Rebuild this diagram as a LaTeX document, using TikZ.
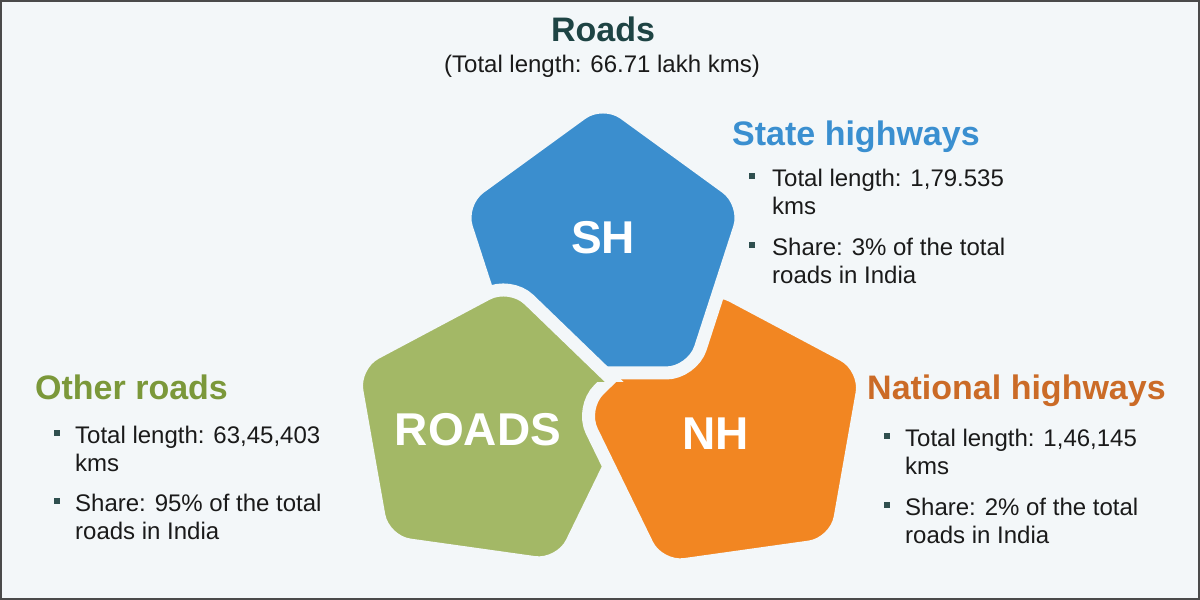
\documentclass[tikz,border=0pt]{standalone}
\usepackage{fontspec}
\setmainfont{Liberation Sans}
\definecolor{bgc}{HTML}{F3F7F9}
\definecolor{frameC}{HTML}{4A4A4A}
\definecolor{blueC}{HTML}{3B8ECE}
\definecolor{greenC}{HTML}{A3B866}
\definecolor{orangeC}{HTML}{F28622}
\definecolor{titleC}{HTML}{1E4444}
\definecolor{hBlue}{HTML}{3A8FD0}
\definecolor{hGreen}{HTML}{7B983A}
\definecolor{hOrange}{HTML}{CB6B27}
\definecolor{txt}{HTML}{1A1A1A}
\definecolor{bulc}{HTML}{2F4F4F}
\begin{document}
\begin{tikzpicture}[x=1pt,y=-1pt,
  pent/.style={line width=13pt, draw=bgc, rounded corners=26pt, line join=round},
  head/.style={anchor=base west, font=\fontsize{34}{40}\selectfont\bfseries, inner sep=0pt},
  body/.style={anchor=base west, font=\fontsize{24}{28}\selectfont, align=left, inner sep=0pt, text=txt},
  bul/.style={fill=bulc, minimum size=6pt, inner sep=0pt},
  lbl/.style={anchor=base, text=white, font=\fontsize{46}{50}\selectfont\bfseries, inner sep=0pt}]
\useasboundingbox (0,0) rectangle (1200,600);
\fill[bgc] (0,0) rectangle (1200,600);
\draw[frameC, line width=4pt] (0,0) rectangle (1200,600);
% pentagons: vertices at visual angles t0+72k, radius 152
\newcommand\mypent[4]{%
  \draw[pent, fill=#4, shift={(#1,#2)}]
    ({-(#3-36)}:123) -- ({-(#3)}:152) -- ({-(#3+72)}:152) -- ({-(#3+144)}:152)
    -- ({-(#3+216)}:152) -- ({-(#3+288)}:152) -- cycle;}
\mypent{730}{434}{98}{orangeC}
\mypent{603}{250}{90}{blueC}
\mypent{489}{432}{82}{greenC}
\begin{scope}
  \clip (560,382) rectangle (670,530);
  \mypent{730}{434}{98}{orangeC}
\end{scope}
% pentagon labels
\node[lbl] (sh) at (603,253) {SH};
\node[lbl] (roads) at (478,445) {ROADS};
\node[lbl] (nh) at (716,449) {NH};
% title
\node[anchor=base, font=\fontsize{34}{40}\selectfont\bfseries, text=titleC, inner sep=0pt] (title) at (603,41) {Roads};
\node[anchor=base, font=\fontsize{24}{28}\selectfont, text=txt, inner sep=0pt] (sub) at (602,72) {(Total length: 66.71 lakh kms)};
% state highways (body anchors are the baseline of the last line)
\node[head, text=hBlue] (shH) at (732,145) {State highways};
\node[bul] (shS1) at (752,176) {};
\node[body] (shB1) at (772,214) {Total length: 1,79.535\\kms};
\node[bul] (shS2) at (752,245) {};
\node[body] (shB2) at (772,283) {Share: 3\% of the total\\roads in India};
% other roads
\node[head, text=hGreen] (orH) at (35,399) {Other roads};
\node[bul] (orS1) at (57,433) {};
\node[body] (orB1) at (75,471) {Total length: 63,45,403\\kms};
\node[bul] (orS2) at (57,501) {};
\node[body] (orB2) at (75,539) {Share: 95\% of the total\\roads in India};
% national highways
\node[head, text=hOrange] (nhH) at (867,399) {National highways};
\node[bul] (nhS1) at (887,436) {};
\node[body] (nhB1) at (905,474) {Total length: 1,46,145\\kms};
\node[bul] (nhS2) at (887,505) {};
\node[body] (nhB2) at (905,543) {Share: 2\% of the total\\roads in India};
\end{tikzpicture}
\end{document}
